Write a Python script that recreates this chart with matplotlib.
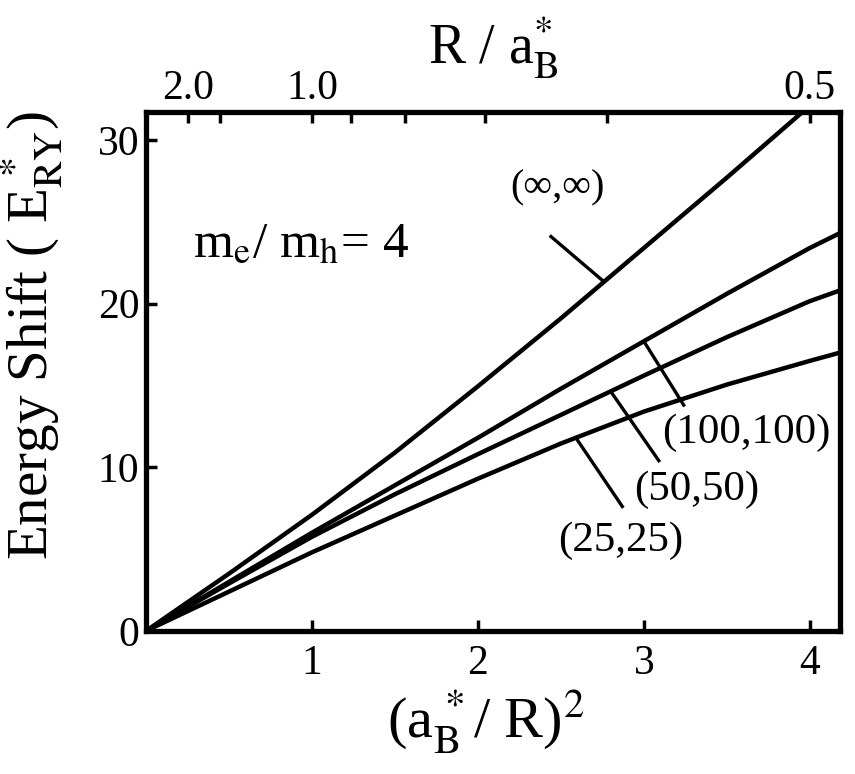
import numpy as np
import matplotlib
matplotlib.use("Agg")
import matplotlib.pyplot as plt

plt.rcParams['font.family'] = ['Liberation Serif', 'DejaVu Serif']
plt.rcParams['mathtext.fontset'] = 'stix'

# valores
x = [0.0, 0.5, 1.0, 1.5, 2.0, 2.5, 3.0, 3.5, 4.0, 4.18]
e_inf = [0.0, 3.5, 7.1, 10.9, 14.95, 19.1, 23.4, 27.7, 32.1, 33.7]
e_100 = [0.0, 3.0, 6.0, 8.9, 11.8, 14.8, 17.7, 20.6, 23.4, 24.3]
e_50 = [0.0, 2.9, 5.75, 8.35, 10.8, 13.2, 15.6, 17.95, 20.15, 20.8]
e_25 = [0.0, 2.4, 4.8, 7.05, 9.3, 11.45, 13.4, 15.05, 16.5, 17.0]
etiquetas = ['(\u221e,\u221e)', '(100,100)', '(50,50)', '(25,25)']

# eje superior R / aB*
r_ticks = [2.0, 1.5, 1.0, 0.9, 0.8, 0.7, 0.6, 0.5]
r_labels = ['2.0', '', '1.0', '', '', '', '', '0.5']

fig = plt.figure(figsize=(8.55, 7.74), dpi=100)
ax = fig.add_axes([0.171, 0.185, 0.811, 0.670])

series = [e_inf, e_100, e_50, e_25]
for s in series:
    ax.plot(x, s, color='black', lw=3.2, solid_capstyle='butt')

ax.set_xlim(0, 4.18)
ax.set_ylim(0, 31.7)
ax.set_xticks([1, 2, 3, 4])
ax.set_yticks([0, 10, 20, 30])
ax.tick_params(direction='in', length=8, width=2.5, labelsize=30, pad=10)
ax.tick_params(axis='y', pad=5)
for sp in ax.spines.values():
    sp.set_linewidth(3.8)

ax.set_xlabel(r'(a$_{\rm B}^{\,*}$/ R)$^{2}$', fontsize=42)
ax.xaxis.set_label_coords(0.49, -0.11)
ax.set_ylabel(r'Energy Shift ( E$_{\rm RY}^{\,*}$)', fontsize=41)
ax.yaxis.set_label_coords(-0.117, 0.57)

top = ax.secondary_xaxis('top')
top.set_xticks([(1.0 / r) ** 2 for r in r_ticks])
top.set_xticklabels(r_labels)
top.tick_params(direction='in', length=8, width=2.5, labelsize=30, pad=3)
top.set_xlabel(r'R / a$_{\rm B}^{*}$', fontsize=40, labelpad=4)

ax.text(0.28, 23.6, r'm$_{\rm e}$/ m$_{\rm h}$= 4', fontsize=37, va='center', ha='left')

# etiquetas con lineas guia
guias = [
    (2.76, 2.44, 24.1, 2.48, 27.1, 29),
    (3.00, 3.24, 13.8, 3.62, 12.1, 31),
    (2.80, 3.09, 10.4, 3.32, 8.6, 31),
    (2.59, 2.87, 7.6, 2.86, 5.5, 31),
]
for s, lab, (xc, xl, yl, xt, yt, fs) in zip(series, etiquetas, guias):
    yc = np.interp(xc, x, s)
    ax.plot([xc, xl], [yc, yl], color='black', lw=2.4)
    ax.text(xt, yt, lab, fontsize=fs, ha='center', va='center')

fig.savefig('out.png', dpi=100)
